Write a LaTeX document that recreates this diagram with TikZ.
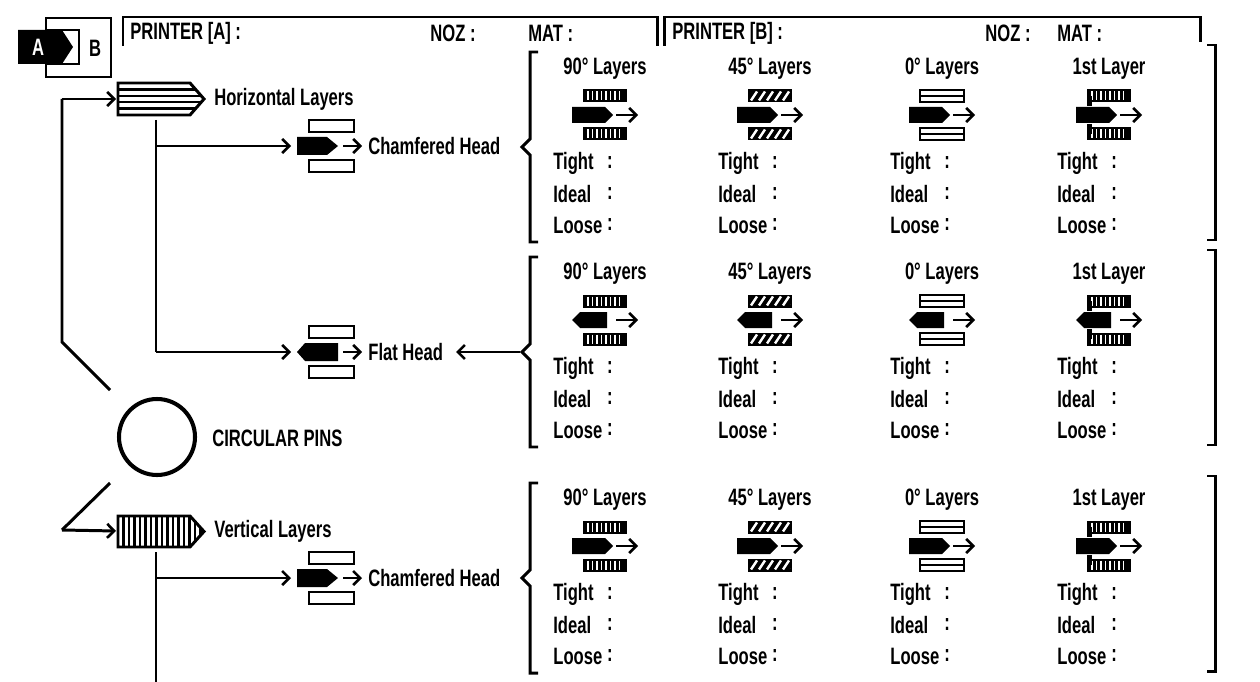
\documentclass[tikz,border=0pt]{standalone}
\usepackage{fontspec}
\setmainfont{Liberation Sans}[FakeStretch=0.7]
\usetikzlibrary{arrows.meta}
\begin{document}
\begin{tikzpicture}[x=0.02cm,y=-0.02cm,line join=miter,
 txt/.style={font=\fontsize{13.5}{16}\selectfont\bfseries,inner sep=0pt},
 flow/.style={line width=1.7pt},
 arr/.style={-{Straight Barb[length=4pt,width=8pt,line width=1.5pt]}},
 pentR/.pic={\fill (-33,-8)--(0,-8)--(8,0)--(0,8)--(-33,8)--cycle;},
 pentL/.pic={\fill (-33,0)--(-25,-8)--(2,-8)--(2,8)--(-25,8)--cycle;},
 sarr/.pic={\draw[line width=1.4pt,arr] (11,0)--(33,0);},
 rN/.pic={\fill (-22,-6.5) rectangle (22,6.5);
   \foreach \i in {-17,-12.5,...,18}{\draw[white,line width=1pt] (\i,-4.5)--(\i,4.5);}},
 rF/.pic={\fill (-22,-6.5) rectangle (22,6.5);
   \begin{scope}\clip (-20,-4.5) rectangle (20,4.5);
   \foreach \i in {-24,-16,...,24}{\draw[white,line width=1.4pt] (\i-3,4.5)--(\i+3,-4.5);}\end{scope}},
 rZ/.pic={\draw[line width=1.5pt,fill=white] (-22,-6) rectangle (22,6); \draw[line width=1.5pt] (-22,0)--(22,0);},
 rOt/.pic={\pic{rN}; \fill (-22,0) rectangle (-17,10);},
 rOb/.pic={\pic{rN}; \fill (-22,0) rectangle (-17,-10);},
 rNt/.pic={\pic{rN};}, rNb/.pic={\pic{rN};},
 rFt/.pic={\pic{rF};}, rFb/.pic={\pic{rF};},
 rZt/.pic={\pic{rZ};}, rZb/.pic={\pic{rZ};},
 orect/.style={line width=1.7pt,fill=white},
 leftR/.pic={\draw[orect] (-18,-26) rectangle (27,-14); \draw[orect] (-18,14) rectangle (27,26);
   \fill (-30,-9)--(0,-9)--(11,0)--(0,9)--(-30,9)--cycle;
   \draw[line width=1.5pt,arr] (16,0)--(35,0);},
 leftL/.pic={\draw[orect] (-18,-26) rectangle (27,-14); \draw[orect] (-18,14) rectangle (27,26);
   \fill (-30,0)--(-22,-9)--(11,-9)--(11,9)--(-22,9)--cycle;
   \draw[line width=1.5pt,arr] (16,0)--(35,0);}
]
\useasboundingbox (0,0) rectangle (1260,682);
% logo
\fill (18,30)--(62,30)--(73,47)--(62,64)--(18,64)--cycle;
\node[txt,white] (la) at (38,47) {A};
\draw[flow] (79,30)--(46,30)--(46,18)--(111,18)--(111,77)--(46,77)--(46,64)--(79,64)--cycle;
\node[txt] (lb) at (95,48) {B};
% header
\draw[flow] (123,46)--(123,17)--(657,17)--(657,46);
\draw[flow] (664,46)--(664,17)--(1200,17)--(1200,42);
\node[txt,anchor=west] (pa) at (130,33) {PRINTER [A] :};
\node[txt,anchor=west] (na) at (430,33) {NOZ :};
\node[txt,anchor=west] (ma) at (528,33) {MAT :};
\node[txt,anchor=west] (pb) at (672,33) {PRINTER [B] :};
\node[txt,anchor=west] (nb) at (985,33) {NOZ :};
\node[txt,anchor=west] (mb) at (1057,33) {MAT :};
% layer icons
\begin{scope}\clip (118,83)--(190,83)--(204,99)--(190,115)--(118,115)--cycle;
\foreach \k in {1,...,4}{\draw[line width=1.4pt] (118,83+6.4*\k)--(205,83+6.4*\k);}\end{scope}
\draw[line width=1.7pt] (118,83)--(190,83)--(204,99)--(190,115)--(118,115)--cycle;
\coordinate (hl) at (116,99);
\node[txt,anchor=west] (hlt) at (214,99) {Horizontal Layers};
\begin{scope}\clip (118,516)--(190,516)--(204,531.5)--(190,547)--(118,547)--cycle;
\foreach \k in {1,...,15}{\draw[line width=1.4pt] (118+5.5*\k,515)--(118+5.5*\k,548);}\end{scope}
\draw[line width=1.7pt] (118,516)--(190,516)--(204,531.5)--(190,547)--(118,547)--cycle;
\coordinate (vl) at (116,531);
\node[txt,anchor=west] (vlt) at (214,531) {Vertical Layers};
\node[draw,circle,line width=2.3pt,minimum size=76*0.02cm,inner sep=0pt] (cp) at (157,437) {};
\node[txt,anchor=west] (cpt) at (212,438) {CIRCULAR PINS};
% flow lines
\coordinate (k1) at (62,342); \coordinate (k2) at (110,390);
\coordinate (k3) at (110,483); \coordinate (k4) at (62,530);
\draw[flow] (k2)--(k1)--(62,99) coordinate (k0);
\draw[flow,arr] (k0)--(hl);
\draw[flow] (k3)--(k4);
\draw[flow,arr] (k4)--(vl);
\coordinate (v1) at (156,120); \coordinate (v2) at (156,352);
\coordinate (v3) at (156,552); \coordinate (v4) at (156,682);
\draw[flow] (v1)--(v2); \draw[flow] (v3)--(v4);
\coordinate (b1) at (156,146); \coordinate (b3) at (156,578);
\coordinate (e1) at (291,146); \coordinate (e2) at (291,352); \coordinate (e3) at (291,578);
\draw[flow,arr] (b1)--(e1); \draw[flow,arr] (v2)--(e2); \draw[flow,arr] (b3)--(e3);
\pic at (327,146) {leftR}; \pic at (327,352) {leftL}; \pic at (327,578) {leftR};
\node[txt,anchor=west] (ch1) at (368,146) {Chamfered Head};
\node[txt,anchor=west] (fh) at (368,352) {Flat Head};
\node[txt,anchor=west] (ch3) at (368,578) {Chamfered Head};
\coordinate (fa) at (520,352); \coordinate (fb) at (456,352);
\draw[flow,arr] (fa)--(fb);
% sections
\foreach \s/\dy/\kind in {1/0/R,2/205/L,3/431/R}{
 \draw[flow] (538,52+\dy)--(530,52+\dy)--(530,139+\dy)--(522,147+\dy)--(530,155+\dy)--(530,242+\dy)--(538,242+\dy);
 \draw[flow] (1207,45+\dy)--(1215,45+\dy)--(1215,240+\dy)--(1207,240+\dy);
 \foreach \c/\cx/\lab/\r in {1/553/90° Layers/N,2/718/45° Layers/F,3/890/0° Layers/Z,4/1057/1st Layer/O}{
  \node[txt] (h\s\c) at ({\cx+52},{69+\dy}) {\lab};
  \pic at ({\cx+52},{96+\dy}) {r\r t};
  \pic at ({\cx+52},{134+\dy}) {r\r b};
  \pic at ({\cx+52},{115+\dy}) {pent\kind};
  \pic at ({\cx+52},{115+\dy}) {sarr};
  \node[txt,anchor=west] (t\s\c) at (\cx,{163+\dy}) {Tight};
  \node[txt,anchor=west] (i\s\c) at (\cx,{194+\dy}) {Ideal};
  \node[txt,anchor=west] (o\s\c) at (\cx,{225+\dy}) {Loose};
  \node[txt] at ({\cx+57},{163+\dy}) {:};
  \node[txt] at ({\cx+57},{194+\dy}) {:};
  \node[txt] at ({\cx+57},{225+\dy}) {:};
 }
}
\end{tikzpicture}
\end{document}
